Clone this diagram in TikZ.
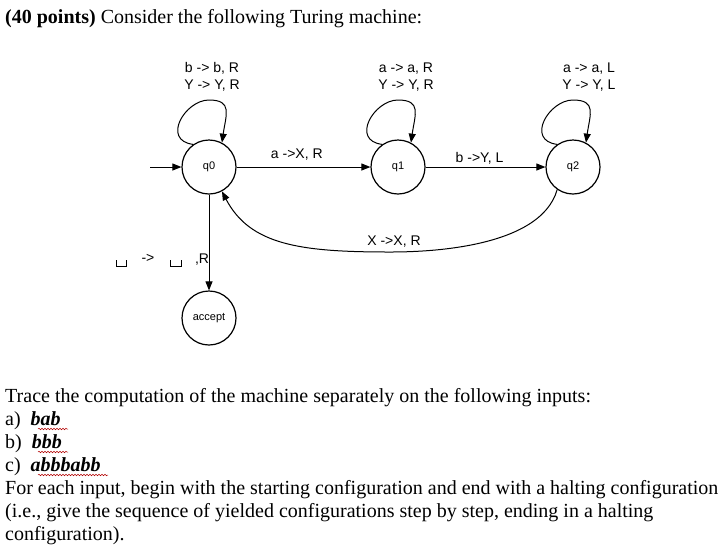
\documentclass[tikz,border=0pt]{standalone}
\usepackage{fontspec}
\setmainfont{Liberation Serif}
\newfontfamily\lsans{Liberation Sans}
\usetikzlibrary{arrows.meta,decorations.pathmorphing,calc}
\begin{document}
\begin{tikzpicture}[x=1pt,y=-1pt,
  st/.style={circle,draw,line width=1.2pt,minimum size=54pt,inner sep=0pt,font=\lsans\fontsize{11}{13}\selectfont},
  lab/.style={font=\lsans\fontsize{14}{17}\selectfont,align=center,inner sep=1pt},
  tr/.style={line width=1pt,-{Triangle[length=9pt,width=7pt]}},
  txt/.style={font=\fontsize{20}{24}\selectfont,anchor=base west,inner sep=0pt},
  wavy/.style={red!70!black,line width=0.5pt,decorate,decoration={snake,amplitude=0.8pt,segment length=3pt}}]
\useasboundingbox (0,0) rectangle (727,550);
\node[txt] (t0) at (5,23) {\textbf{(40 points)} Consider the following Turing machine:};
\node[st] (q0) at (209,167) {q0};
\node[st] (q1) at (398,167) {q1};
\node[st] (q2) at (573,167) {q2};
\node[st] (acc) at (209,318) {accept};
\coordinate (s) at (150,167);
\draw[tr] (s) -- (q0);
\draw[tr] (q0) -- node[lab,above=5pt,pos=0.45]{a ->X, R} (q1);
\draw[tr] (q1) -- node[lab,above=1pt,pos=0.45]{b ->Y, L} (q2);
\draw[tr] (q0) -- (acc);
\draw[tr] (q2.-125) .. controls (540,250) and (420,252) .. (390,252) .. controls (300,252) and (250,245) .. (q0.-62);
\node[lab] (l3) at (394,242) {X ->X, R};
\foreach \n in {q0,q1,q2}{
  \draw[tr] (\n.125) .. controls +(-32,-4) and +(-24,0) .. ($(\n)+(0,-67)$) .. controls +(24,0) and +(4,-28) .. (\n.62);
}
\node[lab] (l0) at (212,77) {b -> b, R\\Y -> Y, R};
\node[lab] (l1) at (406,77) {a -> a, R\\Y -> Y, R};
\node[lab] (l2) at (589,77) {a -> a, L\\Y -> Y, L};
\node[lab] (la) at (148,258) {->};
\node[lab] (lb) at (202,260) {,R};
\draw[line width=1pt] (116,260)--(116,266)--(126,266)--(126,260);
\draw[line width=1pt] (170,260)--(170,266)--(181,266)--(181,260);
\node[txt] (t1) at (5,402) {Trace the computation of the machine separately on the following inputs:};
\node[txt] (t2) at (5,425) {a)\ \ \textbf{\textit{bab}}};
\node[txt] (t3) at (5,448) {b)\ \ \textbf{\textit{bbb}}};
\node[txt] (t4) at (5,471) {c)\ \ \textbf{\textit{abbbabb}}};
\draw[wavy] (38,429) -- (68,429);
\draw[wavy] (38,452) -- (68,452);
\draw[wavy] (38,475) -- (108,475);
\node[txt] (t5) at (5,494) {For each input, begin with the starting configuration and end with a halting configuration};
\node[txt] (t6) at (5,517) {(i.e., give the sequence of yielded configurations step by step, ending in a halting};
\node[txt] (t7) at (5,540) {configuration).};
\end{tikzpicture}
\end{document}
